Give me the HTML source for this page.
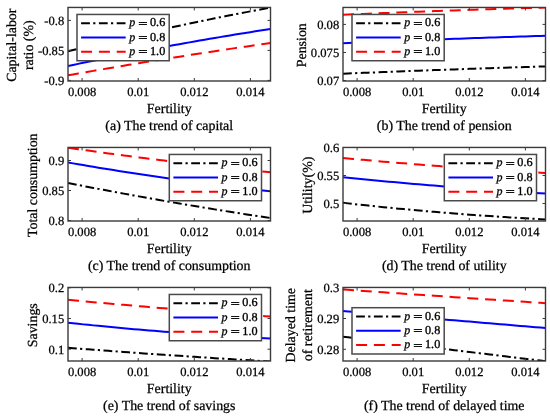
<!DOCTYPE html><html><head><meta charset="utf-8"><style>html,body{margin:0;padding:0;background:#fff;}svg{display:block;}text{font-family:"Liberation Serif",serif;fill:#000;stroke:#000;stroke-width:0.25px;text-rendering:geometricPrecision;}</style></head><body>
<div style="will-change:transform;width:550px;height:419px;filter:blur(0.3px)">
<svg width="550" height="419" viewBox="0 0 550 419">
<rect width="550" height="419" fill="#fff"/>
<clipPath id="cp0"><rect x="68.0" y="7.45" width="202.5" height="73.55"/></clipPath>
<polyline clip-path="url(#cp0)" points="68.00,51.30 73.06,50.05 78.12,48.81 83.19,47.58 88.25,46.35 93.31,45.14 98.38,43.93 103.44,42.73 108.50,41.54 113.56,40.35 118.62,39.17 123.69,38.01 128.75,36.85 133.81,35.69 138.88,34.55 143.94,33.41 149.00,32.28 154.06,31.16 159.12,30.05 164.19,28.95 169.25,27.85 174.31,26.76 179.38,25.68 184.44,24.61 189.50,23.54 194.56,22.49 199.62,21.44 204.69,20.40 209.75,19.37 214.81,18.34 219.88,17.32 224.94,16.32 230.00,15.32 235.06,14.32 240.12,13.34 245.19,12.36 250.25,11.39 255.31,10.43 260.38,9.48 265.44,8.54 270.50,7.60" fill="none" stroke="#000" stroke-width="2" stroke-dasharray="8.8 3.3 2.2 3.5"/>
<polyline clip-path="url(#cp0)" points="68.00,66.00 73.06,64.93 78.12,63.87 83.19,62.81 88.25,61.76 93.31,60.72 98.38,59.69 103.44,58.66 108.50,57.64 113.56,56.63 118.62,55.62 123.69,54.63 128.75,53.64 133.81,52.66 138.88,51.68 143.94,50.72 149.00,49.76 154.06,48.81 159.12,47.86 164.19,46.93 169.25,46.00 174.31,45.08 179.38,44.16 184.44,43.26 189.50,42.36 194.56,41.47 199.62,40.59 204.69,39.71 209.75,38.84 214.81,37.98 219.88,37.12 224.94,36.28 230.00,35.44 235.06,34.61 240.12,33.78 245.19,32.97 250.25,32.16 255.31,31.36 260.38,30.57 265.44,29.78 270.50,29.00" fill="none" stroke="#0000ff" stroke-width="2"/>
<polyline clip-path="url(#cp0)" points="68.00,75.30 73.06,74.40 78.12,73.51 83.19,72.63 88.25,71.75 93.31,70.87 98.38,70.00 103.44,69.13 108.50,68.26 113.56,67.40 118.62,66.55 123.69,65.70 128.75,64.85 133.81,64.01 138.88,63.18 143.94,62.34 149.00,61.52 154.06,60.69 159.12,59.87 164.19,59.06 169.25,58.25 174.31,57.44 179.38,56.64 184.44,55.85 189.50,55.06 194.56,54.27 199.62,53.49 204.69,52.71 209.75,51.93 214.81,51.16 219.88,50.40 224.94,49.64 230.00,48.88 235.06,48.13 240.12,47.39 245.19,46.64 250.25,45.91 255.31,45.17 260.38,44.44 265.44,43.72 270.50,43.00" fill="none" stroke="#ff0000" stroke-width="2" stroke-dasharray="11 6.8"/>
<rect x="68.0" y="7.45" width="202.5" height="73.55" fill="none" stroke="#3a3a3a" stroke-width="1.4"/>
<path d="M82.1 81.0 v-3 M82.1 7.45 v3" stroke="#3a3a3a" stroke-width="1"/>
<text x="82.1" y="96.3" font-size="12.6" text-anchor="middle">0.008</text>
<path d="M138.2 81.0 v-3 M138.2 7.45 v3" stroke="#3a3a3a" stroke-width="1"/>
<text x="138.2" y="96.3" font-size="12.6" text-anchor="middle">0.01</text>
<path d="M194.3 81.0 v-3 M194.3 7.45 v3" stroke="#3a3a3a" stroke-width="1"/>
<text x="194.3" y="96.3" font-size="12.6" text-anchor="middle">0.012</text>
<path d="M250.4 81.0 v-3 M250.4 7.45 v3" stroke="#3a3a3a" stroke-width="1"/>
<text x="250.4" y="96.3" font-size="12.6" text-anchor="middle">0.014</text>
<path d="M68.0 20.4 h3 M270.5 20.4 h-3" stroke="#3a3a3a" stroke-width="1"/>
<text x="64.2" y="24.7" font-size="12.6" text-anchor="end">-0.8</text>
<path d="M68.0 50.4 h3 M270.5 50.4 h-3" stroke="#3a3a3a" stroke-width="1"/>
<text x="64.2" y="54.699999999999996" font-size="12.6" text-anchor="end">-0.85</text>
<path d="M68.0 80.4 h3 M270.5 80.4 h-3" stroke="#3a3a3a" stroke-width="1"/>
<text x="64.2" y="84.7" font-size="12.6" text-anchor="end">-0.9</text>
<text x="169.25" y="113.2" font-size="13.9" text-anchor="middle">Fertility</text>
<text x="169.25" y="130.2" font-size="13.9" text-anchor="middle">(a) The trend of capital</text>
<text transform="translate(15.5,45.225) rotate(-90)" x="0" y="0" font-size="13.9" text-anchor="middle">Capital-labor</text>
<text transform="translate(32.5,45.225) rotate(-90)" x="0" y="0" font-size="13.9" text-anchor="middle">ratio (%)</text>
<rect x="77.0" y="14.45" width="92.2" height="46.3" fill="#fff" stroke="#4a4a4a" stroke-width="1.5"/>
<line x1="81.1" y1="23.15" x2="125.7" y2="23.15" stroke="#000" stroke-width="2" stroke-dasharray="8.8 3.3 2.2 3.5"/>
<text x="129.2" y="26.45" font-size="12" font-style="italic" style="stroke-width:0.3px">p</text>
<path d="M138.8 22.5 h8.2 M138.8 24.5 h8.2" stroke="#111" stroke-width="1.1"/>
<text x="150.0" y="26.45" font-size="12.2" style="stroke-width:0.35px">0.6</text>
<line x1="81.1" y1="37.5" x2="125.7" y2="37.5" stroke="#0000ff" stroke-width="2"/>
<text x="129.2" y="40.55" font-size="12" font-style="italic" style="stroke-width:0.3px">p</text>
<path d="M138.8 36.5 h8.2 M138.8 38.5 h8.2" stroke="#111" stroke-width="1.1"/>
<text x="150.0" y="40.55" font-size="12.2" style="stroke-width:0.35px">0.8</text>
<line x1="81.1" y1="51.849999999999994" x2="125.7" y2="51.849999999999994" stroke="#ff0000" stroke-width="2" stroke-dasharray="11 6.8"/>
<text x="129.2" y="54.65" font-size="12" font-style="italic" style="stroke-width:0.3px">p</text>
<path d="M138.8 50.5 h8.2 M138.8 52.5 h8.2" stroke="#111" stroke-width="1.1"/>
<text x="150.0" y="54.65" font-size="12.2" style="stroke-width:0.35px">1.0</text>
<clipPath id="cp1"><rect x="343.0" y="7.45" width="202.5" height="73.55"/></clipPath>
<polyline clip-path="url(#cp1)" points="343.00,73.70 348.06,73.49 353.12,73.28 358.19,73.07 363.25,72.86 368.31,72.66 373.38,72.45 378.44,72.25 383.50,72.05 388.56,71.85 393.62,71.65 398.69,71.45 403.75,71.26 408.81,71.06 413.88,70.87 418.94,70.68 424.00,70.49 429.06,70.30 434.12,70.12 439.19,69.93 444.25,69.75 449.31,69.57 454.38,69.39 459.44,69.21 464.50,69.03 469.56,68.86 474.62,68.68 479.69,68.51 484.75,68.34 489.81,68.17 494.88,68.00 499.94,67.83 505.00,67.67 510.06,67.50 515.12,67.34 520.19,67.18 525.25,67.02 530.31,66.86 535.38,66.71 540.44,66.55 545.50,66.40" fill="none" stroke="#000" stroke-width="2" stroke-dasharray="8.8 3.3 2.2 3.5"/>
<polyline clip-path="url(#cp1)" points="343.00,43.20 348.06,42.99 353.12,42.77 358.19,42.56 363.25,42.35 368.31,42.14 373.38,41.94 378.44,41.73 383.50,41.53 388.56,41.33 393.62,41.12 398.69,40.93 403.75,40.73 408.81,40.53 413.88,40.34 418.94,40.14 424.00,39.95 429.06,39.76 434.12,39.57 439.19,39.39 444.25,39.20 449.31,39.02 454.38,38.83 459.44,38.65 464.50,38.47 469.56,38.29 474.62,38.12 479.69,37.94 484.75,37.77 489.81,37.60 494.88,37.42 499.94,37.26 505.00,37.09 510.06,36.92 515.12,36.76 520.19,36.59 525.25,36.43 530.31,36.27 535.38,36.11 540.44,35.96 545.50,35.80" fill="none" stroke="#0000ff" stroke-width="2"/>
<polyline clip-path="url(#cp1)" points="343.00,14.80 348.06,14.58 353.12,14.36 358.19,14.14 363.25,13.93 368.31,13.71 373.38,13.50 378.44,13.29 383.50,13.08 388.56,12.88 393.62,12.68 398.69,12.47 403.75,12.27 408.81,12.08 413.88,11.88 418.94,11.69 424.00,11.50 429.06,11.31 434.12,11.12 439.19,10.93 444.25,10.75 449.31,10.57 454.38,10.39 459.44,10.21 464.50,10.04 469.56,9.86 474.62,9.69 479.69,9.52 484.75,9.35 489.81,9.19 494.88,9.02 499.94,8.86 505.00,8.70 510.06,8.55 515.12,8.39 520.19,8.24 525.25,8.09 530.31,7.94 535.38,7.79 540.44,7.64 545.50,7.50" fill="none" stroke="#ff0000" stroke-width="2" stroke-dasharray="11 6.8"/>
<rect x="343.0" y="7.45" width="202.5" height="73.55" fill="none" stroke="#3a3a3a" stroke-width="1.4"/>
<path d="M357.1 81.0 v-3 M357.1 7.45 v3" stroke="#3a3a3a" stroke-width="1"/>
<text x="357.1" y="96.3" font-size="12.6" text-anchor="middle">0.008</text>
<path d="M413.2 81.0 v-3 M413.2 7.45 v3" stroke="#3a3a3a" stroke-width="1"/>
<text x="413.2" y="96.3" font-size="12.6" text-anchor="middle">0.01</text>
<path d="M469.3 81.0 v-3 M469.3 7.45 v3" stroke="#3a3a3a" stroke-width="1"/>
<text x="469.3" y="96.3" font-size="12.6" text-anchor="middle">0.012</text>
<path d="M525.4 81.0 v-3 M525.4 7.45 v3" stroke="#3a3a3a" stroke-width="1"/>
<text x="525.4" y="96.3" font-size="12.6" text-anchor="middle">0.014</text>
<path d="M343.0 24.4 h3 M545.5 24.4 h-3" stroke="#3a3a3a" stroke-width="1"/>
<text x="339.2" y="28.7" font-size="12.6" text-anchor="end">0.08</text>
<path d="M343.0 52.5 h3 M545.5 52.5 h-3" stroke="#3a3a3a" stroke-width="1"/>
<text x="339.2" y="56.8" font-size="12.6" text-anchor="end">0.075</text>
<path d="M343.0 80.6 h3 M545.5 80.6 h-3" stroke="#3a3a3a" stroke-width="1"/>
<text x="339.2" y="84.89999999999999" font-size="12.6" text-anchor="end">0.07</text>
<text x="444.25" y="113.2" font-size="13.9" text-anchor="middle">Fertility</text>
<text x="444.25" y="130.2" font-size="13.9" text-anchor="middle">(b) The trend of pension</text>
<text transform="translate(306,45.225) rotate(-90)" x="0" y="0" font-size="13.9" text-anchor="middle">Pension</text>
<rect x="352.0" y="14.45" width="92.2" height="46.3" fill="#fff" stroke="#4a4a4a" stroke-width="1.5"/>
<line x1="356.1" y1="23.15" x2="400.7" y2="23.15" stroke="#000" stroke-width="2" stroke-dasharray="8.8 3.3 2.2 3.5"/>
<text x="404.2" y="26.45" font-size="12" font-style="italic" style="stroke-width:0.3px">p</text>
<path d="M413.8 22.5 h8.2 M413.8 24.5 h8.2" stroke="#111" stroke-width="1.1"/>
<text x="425.0" y="26.45" font-size="12.2" style="stroke-width:0.35px">0.6</text>
<line x1="356.1" y1="37.5" x2="400.7" y2="37.5" stroke="#0000ff" stroke-width="2"/>
<text x="404.2" y="40.55" font-size="12" font-style="italic" style="stroke-width:0.3px">p</text>
<path d="M413.8 36.5 h8.2 M413.8 38.5 h8.2" stroke="#111" stroke-width="1.1"/>
<text x="425.0" y="40.55" font-size="12.2" style="stroke-width:0.35px">0.8</text>
<line x1="356.1" y1="51.849999999999994" x2="400.7" y2="51.849999999999994" stroke="#ff0000" stroke-width="2" stroke-dasharray="11 6.8"/>
<text x="404.2" y="54.65" font-size="12" font-style="italic" style="stroke-width:0.3px">p</text>
<path d="M413.8 50.5 h8.2 M413.8 52.5 h8.2" stroke="#111" stroke-width="1.1"/>
<text x="425.0" y="54.65" font-size="12.2" style="stroke-width:0.35px">1.0</text>
<clipPath id="cp2"><rect x="68.0" y="147.45" width="202.5" height="73.55"/></clipPath>
<polyline clip-path="url(#cp2)" points="68.00,183.00 73.06,184.00 78.12,184.99 83.19,185.97 88.25,186.95 93.31,187.92 98.38,188.89 103.44,189.85 108.50,190.80 113.56,191.75 118.62,192.69 123.69,193.62 128.75,194.55 133.81,195.47 138.88,196.39 143.94,197.30 149.00,198.20 154.06,199.10 159.12,199.99 164.19,200.87 169.25,201.75 174.31,202.62 179.38,203.49 184.44,204.35 189.50,205.20 194.56,206.05 199.62,206.89 204.69,207.72 209.75,208.55 214.81,209.37 219.88,210.19 224.94,211.00 230.00,211.80 235.06,212.60 240.12,213.39 245.19,214.17 250.25,214.95 255.31,215.72 260.38,216.49 265.44,217.25 270.50,218.00" fill="none" stroke="#000" stroke-width="2" stroke-dasharray="8.8 3.3 2.2 3.5"/>
<polyline clip-path="url(#cp2)" points="68.00,162.50 73.06,163.38 78.12,164.24 83.19,165.10 88.25,165.96 93.31,166.80 98.38,167.64 103.44,168.46 108.50,169.28 113.56,170.10 118.62,170.90 123.69,171.70 128.75,172.48 133.81,173.26 138.88,174.04 143.94,174.80 149.00,175.56 154.06,176.30 159.12,177.04 164.19,177.78 169.25,178.50 174.31,179.22 179.38,179.92 184.44,180.62 189.50,181.32 194.56,182.00 199.62,182.68 204.69,183.34 209.75,184.00 214.81,184.66 219.88,185.30 224.94,185.94 230.00,186.56 235.06,187.18 240.12,187.80 245.19,188.40 250.25,189.00 255.31,189.58 260.38,190.16 265.44,190.74 270.50,191.30" fill="none" stroke="#0000ff" stroke-width="2"/>
<polyline clip-path="url(#cp2)" points="68.00,147.70 73.06,148.43 78.12,149.16 83.19,149.88 88.25,150.59 93.31,151.30 98.38,152.00 103.44,152.70 108.50,153.39 113.56,154.07 118.62,154.75 123.69,155.42 128.75,156.09 133.81,156.75 138.88,157.40 143.94,158.05 149.00,158.69 154.06,159.33 159.12,159.96 164.19,160.58 169.25,161.20 174.31,161.81 179.38,162.42 184.44,163.02 189.50,163.61 194.56,164.20 199.62,164.78 204.69,165.36 209.75,165.93 214.81,166.49 219.88,167.05 224.94,167.60 230.00,168.15 235.06,168.69 240.12,169.22 245.19,169.75 250.25,170.27 255.31,170.79 260.38,171.30 265.44,171.80 270.50,172.30" fill="none" stroke="#ff0000" stroke-width="2" stroke-dasharray="11 6.8"/>
<rect x="68.0" y="147.45" width="202.5" height="73.55" fill="none" stroke="#3a3a3a" stroke-width="1.4"/>
<path d="M82.1 221.0 v-3 M82.1 147.45 v3" stroke="#3a3a3a" stroke-width="1"/>
<text x="82.1" y="236.3" font-size="12.6" text-anchor="middle">0.008</text>
<path d="M138.2 221.0 v-3 M138.2 147.45 v3" stroke="#3a3a3a" stroke-width="1"/>
<text x="138.2" y="236.3" font-size="12.6" text-anchor="middle">0.01</text>
<path d="M194.3 221.0 v-3 M194.3 147.45 v3" stroke="#3a3a3a" stroke-width="1"/>
<text x="194.3" y="236.3" font-size="12.6" text-anchor="middle">0.012</text>
<path d="M250.4 221.0 v-3 M250.4 147.45 v3" stroke="#3a3a3a" stroke-width="1"/>
<text x="250.4" y="236.3" font-size="12.6" text-anchor="middle">0.014</text>
<path d="M68.0 160.5 h3 M270.5 160.5 h-3" stroke="#3a3a3a" stroke-width="1"/>
<text x="64.2" y="164.8" font-size="12.6" text-anchor="end">0.9</text>
<path d="M68.0 190.5 h3 M270.5 190.5 h-3" stroke="#3a3a3a" stroke-width="1"/>
<text x="64.2" y="194.8" font-size="12.6" text-anchor="end">0.85</text>
<path d="M68.0 220.5 h3 M270.5 220.5 h-3" stroke="#3a3a3a" stroke-width="1"/>
<text x="64.2" y="224.8" font-size="12.6" text-anchor="end">0.8</text>
<text x="169.25" y="253.2" font-size="13.9" text-anchor="middle">Fertility</text>
<text x="169.25" y="270.2" font-size="13.9" text-anchor="middle">(c) The trend of consumption</text>
<text transform="translate(37,185.225) rotate(-90)" x="0" y="0" font-size="13.9" text-anchor="middle">Total consumption</text>
<rect x="169.3" y="154.45" width="92.2" height="46.3" fill="#fff" stroke="#4a4a4a" stroke-width="1.5"/>
<line x1="173.4" y1="163.14999999999998" x2="218.0" y2="163.14999999999998" stroke="#000" stroke-width="2" stroke-dasharray="8.8 3.3 2.2 3.5"/>
<text x="221.5" y="166.45" font-size="12" font-style="italic" style="stroke-width:0.3px">p</text>
<path d="M231.10000000000002 162.5 h8.2 M231.10000000000002 164.5 h8.2" stroke="#111" stroke-width="1.1"/>
<text x="242.3" y="166.45" font-size="12.2" style="stroke-width:0.35px">0.6</text>
<line x1="173.4" y1="177.49999999999997" x2="218.0" y2="177.49999999999997" stroke="#0000ff" stroke-width="2"/>
<text x="221.5" y="180.54999999999998" font-size="12" font-style="italic" style="stroke-width:0.3px">p</text>
<path d="M231.10000000000002 176.5 h8.2 M231.10000000000002 178.5 h8.2" stroke="#111" stroke-width="1.1"/>
<text x="242.3" y="180.54999999999998" font-size="12.2" style="stroke-width:0.35px">0.8</text>
<line x1="173.4" y1="191.84999999999997" x2="218.0" y2="191.84999999999997" stroke="#ff0000" stroke-width="2" stroke-dasharray="11 6.8"/>
<text x="221.5" y="194.64999999999998" font-size="12" font-style="italic" style="stroke-width:0.3px">p</text>
<path d="M231.10000000000002 190.5 h8.2 M231.10000000000002 192.5 h8.2" stroke="#111" stroke-width="1.1"/>
<text x="242.3" y="194.64999999999998" font-size="12.2" style="stroke-width:0.35px">1.0</text>
<clipPath id="cp3"><rect x="343.0" y="147.45" width="202.5" height="73.55"/></clipPath>
<polyline clip-path="url(#cp3)" points="343.00,202.80 348.06,203.37 353.12,203.93 358.19,204.49 363.25,205.04 368.31,205.57 373.38,206.11 378.44,206.63 383.50,207.14 388.56,207.65 393.62,208.15 398.69,208.64 403.75,209.12 408.81,209.60 413.88,210.07 418.94,210.53 424.00,210.98 429.06,211.42 434.12,211.85 439.19,212.28 444.25,212.70 449.31,213.11 454.38,213.51 459.44,213.91 464.50,214.30 469.56,214.68 474.62,215.05 479.69,215.41 484.75,215.76 489.81,216.11 494.88,216.45 499.94,216.78 505.00,217.10 510.06,217.42 515.12,217.73 520.19,218.03 525.25,218.32 530.31,218.60 535.38,218.87 540.44,219.14 545.50,219.40" fill="none" stroke="#000" stroke-width="2" stroke-dasharray="8.8 3.3 2.2 3.5"/>
<polyline clip-path="url(#cp3)" points="343.00,177.30 348.06,177.80 353.12,178.30 358.19,178.79 363.25,179.28 368.31,179.76 373.38,180.24 378.44,180.71 383.50,181.18 388.56,181.64 393.62,182.10 398.69,182.55 403.75,183.00 408.81,183.44 413.88,183.88 418.94,184.31 424.00,184.74 429.06,185.16 434.12,185.58 439.19,185.99 444.25,186.40 449.31,186.80 454.38,187.20 459.44,187.59 464.50,187.98 469.56,188.36 474.62,188.74 479.69,189.11 484.75,189.48 489.81,189.84 494.88,190.20 499.94,190.55 505.00,190.90 510.06,191.24 515.12,191.58 520.19,191.91 525.25,192.24 530.31,192.56 535.38,192.88 540.44,193.19 545.50,193.50" fill="none" stroke="#0000ff" stroke-width="2"/>
<polyline clip-path="url(#cp3)" points="343.00,158.00 348.06,158.47 353.12,158.94 358.19,159.40 363.25,159.86 368.31,160.31 373.38,160.76 378.44,161.20 383.50,161.64 388.56,162.07 393.62,162.50 398.69,162.92 403.75,163.34 408.81,163.75 413.88,164.16 418.94,164.56 424.00,164.96 429.06,165.35 434.12,165.74 439.19,166.12 444.25,166.50 449.31,166.87 454.38,167.24 459.44,167.60 464.50,167.96 469.56,168.31 474.62,168.66 479.69,169.00 484.75,169.34 489.81,169.67 494.88,170.00 499.94,170.32 505.00,170.64 510.06,170.95 515.12,171.26 520.19,171.56 525.25,171.86 530.31,172.15 535.38,172.44 540.44,172.72 545.50,173.00" fill="none" stroke="#ff0000" stroke-width="2" stroke-dasharray="11 6.8"/>
<rect x="343.0" y="147.45" width="202.5" height="73.55" fill="none" stroke="#3a3a3a" stroke-width="1.4"/>
<path d="M357.1 221.0 v-3 M357.1 147.45 v3" stroke="#3a3a3a" stroke-width="1"/>
<text x="357.1" y="236.3" font-size="12.6" text-anchor="middle">0.008</text>
<path d="M413.2 221.0 v-3 M413.2 147.45 v3" stroke="#3a3a3a" stroke-width="1"/>
<text x="413.2" y="236.3" font-size="12.6" text-anchor="middle">0.01</text>
<path d="M469.3 221.0 v-3 M469.3 147.45 v3" stroke="#3a3a3a" stroke-width="1"/>
<text x="469.3" y="236.3" font-size="12.6" text-anchor="middle">0.012</text>
<path d="M525.4 221.0 v-3 M525.4 147.45 v3" stroke="#3a3a3a" stroke-width="1"/>
<text x="525.4" y="236.3" font-size="12.6" text-anchor="middle">0.014</text>
<path d="M343.0 147.5 h3 M545.5 147.5 h-3" stroke="#3a3a3a" stroke-width="1"/>
<text x="339.2" y="151.8" font-size="12.6" text-anchor="end">0.6</text>
<path d="M343.0 175.5 h3 M545.5 175.5 h-3" stroke="#3a3a3a" stroke-width="1"/>
<text x="339.2" y="179.8" font-size="12.6" text-anchor="end">0.55</text>
<path d="M343.0 203.5 h3 M545.5 203.5 h-3" stroke="#3a3a3a" stroke-width="1"/>
<text x="339.2" y="207.8" font-size="12.6" text-anchor="end">0.5</text>
<text x="444.25" y="253.2" font-size="13.9" text-anchor="middle">Fertility</text>
<text x="444.25" y="270.2" font-size="13.9" text-anchor="middle">(d) The trend of utility</text>
<text transform="translate(311.5,185.225) rotate(-90)" x="0" y="0" font-size="13.9" text-anchor="middle">Utility(%)</text>
<rect x="444.3" y="154.45" width="92.2" height="46.3" fill="#fff" stroke="#4a4a4a" stroke-width="1.5"/>
<line x1="448.40000000000003" y1="163.14999999999998" x2="493.0" y2="163.14999999999998" stroke="#000" stroke-width="2" stroke-dasharray="8.8 3.3 2.2 3.5"/>
<text x="496.5" y="166.45" font-size="12" font-style="italic" style="stroke-width:0.3px">p</text>
<path d="M506.1 162.5 h8.2 M506.1 164.5 h8.2" stroke="#111" stroke-width="1.1"/>
<text x="517.3" y="166.45" font-size="12.2" style="stroke-width:0.35px">0.6</text>
<line x1="448.40000000000003" y1="177.49999999999997" x2="493.0" y2="177.49999999999997" stroke="#0000ff" stroke-width="2"/>
<text x="496.5" y="180.54999999999998" font-size="12" font-style="italic" style="stroke-width:0.3px">p</text>
<path d="M506.1 176.5 h8.2 M506.1 178.5 h8.2" stroke="#111" stroke-width="1.1"/>
<text x="517.3" y="180.54999999999998" font-size="12.2" style="stroke-width:0.35px">0.8</text>
<line x1="448.40000000000003" y1="191.84999999999997" x2="493.0" y2="191.84999999999997" stroke="#ff0000" stroke-width="2" stroke-dasharray="11 6.8"/>
<text x="496.5" y="194.64999999999998" font-size="12" font-style="italic" style="stroke-width:0.3px">p</text>
<path d="M506.1 190.5 h8.2 M506.1 192.5 h8.2" stroke="#111" stroke-width="1.1"/>
<text x="517.3" y="194.64999999999998" font-size="12.2" style="stroke-width:0.35px">1.0</text>
<clipPath id="cp4"><rect x="68.0" y="287.45" width="202.5" height="73.55"/></clipPath>
<polyline clip-path="url(#cp4)" points="68.00,347.80 73.06,348.19 78.12,348.58 83.19,348.97 88.25,349.35 93.31,349.73 98.38,350.11 103.44,350.49 108.50,350.86 113.56,351.23 118.62,351.60 123.69,351.97 128.75,352.33 133.81,352.69 138.88,353.05 143.94,353.41 149.00,353.76 154.06,354.11 159.12,354.46 164.19,354.81 169.25,355.15 174.31,355.49 179.38,355.83 184.44,356.17 189.50,356.50 194.56,356.83 199.62,357.16 204.69,357.49 209.75,357.81 214.81,358.13 219.88,358.45 224.94,358.77 230.00,359.08 235.06,359.39 240.12,359.70 245.19,360.01 250.25,360.31 255.31,360.61 260.38,360.91 265.44,361.21 270.50,361.50" fill="none" stroke="#000" stroke-width="2" stroke-dasharray="8.8 3.3 2.2 3.5"/>
<polyline clip-path="url(#cp4)" points="68.00,322.80 73.06,323.33 78.12,323.85 83.19,324.37 88.25,324.87 93.31,325.38 98.38,325.87 103.44,326.36 108.50,326.84 113.56,327.31 118.62,327.78 123.69,328.23 128.75,328.69 133.81,329.13 138.88,329.57 143.94,330.00 149.00,330.42 154.06,330.84 159.12,331.25 164.19,331.65 169.25,332.05 174.31,332.44 179.38,332.82 184.44,333.20 189.50,333.56 194.56,333.93 199.62,334.28 204.69,334.63 209.75,334.97 214.81,335.30 219.88,335.62 224.94,335.94 230.00,336.26 235.06,336.56 240.12,336.86 245.19,337.15 250.25,337.43 255.31,337.71 260.38,337.98 265.44,338.24 270.50,338.50" fill="none" stroke="#0000ff" stroke-width="2"/>
<polyline clip-path="url(#cp4)" points="68.00,299.80 73.06,300.28 78.12,300.75 83.19,301.22 88.25,301.69 93.31,302.15 98.38,302.61 103.44,303.07 108.50,303.52 113.56,303.98 118.62,304.43 123.69,304.87 128.75,305.31 133.81,305.75 138.88,306.19 143.94,306.62 149.00,307.06 154.06,307.48 159.12,307.91 164.19,308.33 169.25,308.75 174.31,309.17 179.38,309.58 184.44,309.99 189.50,310.40 194.56,310.80 199.62,311.20 204.69,311.60 209.75,311.99 214.81,312.39 219.88,312.77 224.94,313.16 230.00,313.54 235.06,313.92 240.12,314.30 245.19,314.68 250.25,315.05 255.31,315.41 260.38,315.78 265.44,316.14 270.50,316.50" fill="none" stroke="#ff0000" stroke-width="2" stroke-dasharray="11 6.8"/>
<rect x="68.0" y="287.45" width="202.5" height="73.55" fill="none" stroke="#3a3a3a" stroke-width="1.4"/>
<path d="M82.1 361.0 v-3 M82.1 287.45 v3" stroke="#3a3a3a" stroke-width="1"/>
<text x="82.1" y="376.3" font-size="12.6" text-anchor="middle">0.008</text>
<path d="M138.2 361.0 v-3 M138.2 287.45 v3" stroke="#3a3a3a" stroke-width="1"/>
<text x="138.2" y="376.3" font-size="12.6" text-anchor="middle">0.01</text>
<path d="M194.3 361.0 v-3 M194.3 287.45 v3" stroke="#3a3a3a" stroke-width="1"/>
<text x="194.3" y="376.3" font-size="12.6" text-anchor="middle">0.012</text>
<path d="M250.4 361.0 v-3 M250.4 287.45 v3" stroke="#3a3a3a" stroke-width="1"/>
<text x="250.4" y="376.3" font-size="12.6" text-anchor="middle">0.014</text>
<path d="M68.0 287.8 h3 M270.5 287.8 h-3" stroke="#3a3a3a" stroke-width="1"/>
<text x="64.2" y="292.1" font-size="12.6" text-anchor="end">0.2</text>
<path d="M68.0 318.5 h3 M270.5 318.5 h-3" stroke="#3a3a3a" stroke-width="1"/>
<text x="64.2" y="322.8" font-size="12.6" text-anchor="end">0.15</text>
<path d="M68.0 349.2 h3 M270.5 349.2 h-3" stroke="#3a3a3a" stroke-width="1"/>
<text x="64.2" y="353.5" font-size="12.6" text-anchor="end">0.1</text>
<text x="169.25" y="393.2" font-size="13.9" text-anchor="middle">Fertility</text>
<text x="169.25" y="410.2" font-size="13.9" text-anchor="middle">(e) The trend of savings</text>
<text transform="translate(37,325.225) rotate(-90)" x="0" y="0" font-size="13.9" text-anchor="middle">Savings</text>
<rect x="169.3" y="294.45" width="92.2" height="46.3" fill="#fff" stroke="#4a4a4a" stroke-width="1.5"/>
<line x1="173.4" y1="303.15" x2="218.0" y2="303.15" stroke="#000" stroke-width="2" stroke-dasharray="8.8 3.3 2.2 3.5"/>
<text x="221.5" y="306.45" font-size="12" font-style="italic" style="stroke-width:0.3px">p</text>
<path d="M231.10000000000002 302.5 h8.2 M231.10000000000002 304.5 h8.2" stroke="#111" stroke-width="1.1"/>
<text x="242.3" y="306.45" font-size="12.2" style="stroke-width:0.35px">0.6</text>
<line x1="173.4" y1="317.5" x2="218.0" y2="317.5" stroke="#0000ff" stroke-width="2"/>
<text x="221.5" y="320.55" font-size="12" font-style="italic" style="stroke-width:0.3px">p</text>
<path d="M231.10000000000002 316.5 h8.2 M231.10000000000002 318.5 h8.2" stroke="#111" stroke-width="1.1"/>
<text x="242.3" y="320.55" font-size="12.2" style="stroke-width:0.35px">0.8</text>
<line x1="173.4" y1="331.84999999999997" x2="218.0" y2="331.84999999999997" stroke="#ff0000" stroke-width="2" stroke-dasharray="11 6.8"/>
<text x="221.5" y="334.65" font-size="12" font-style="italic" style="stroke-width:0.3px">p</text>
<path d="M231.10000000000002 330.5 h8.2 M231.10000000000002 332.5 h8.2" stroke="#111" stroke-width="1.1"/>
<text x="242.3" y="334.65" font-size="12.2" style="stroke-width:0.35px">1.0</text>
<clipPath id="cp5"><rect x="343.0" y="287.45" width="202.5" height="73.55"/></clipPath>
<polyline clip-path="url(#cp5)" points="343.00,336.70 348.06,337.31 353.12,337.93 358.19,338.54 363.25,339.15 368.31,339.76 373.38,340.38 378.44,340.99 383.50,341.60 388.56,342.21 393.62,342.82 398.69,343.44 403.75,344.05 408.81,344.66 413.88,345.27 418.94,345.89 424.00,346.50 429.06,347.11 434.12,347.72 439.19,348.34 444.25,348.95 449.31,349.56 454.38,350.18 459.44,350.79 464.50,351.40 469.56,352.01 474.62,352.62 479.69,353.24 484.75,353.85 489.81,354.46 494.88,355.07 499.94,355.69 505.00,356.30 510.06,356.91 515.12,357.52 520.19,358.14 525.25,358.75 530.31,359.36 535.38,359.97 540.44,360.59 545.50,361.20" fill="none" stroke="#000" stroke-width="2" stroke-dasharray="8.8 3.3 2.2 3.5"/>
<polyline clip-path="url(#cp5)" points="343.00,311.00 348.06,311.43 353.12,311.85 358.19,312.27 363.25,312.70 368.31,313.12 373.38,313.55 378.44,313.98 383.50,314.40 388.56,314.82 393.62,315.25 398.69,315.68 403.75,316.10 408.81,316.52 413.88,316.95 418.94,317.38 424.00,317.80 429.06,318.23 434.12,318.65 439.19,319.07 444.25,319.50 449.31,319.93 454.38,320.35 459.44,320.77 464.50,321.20 469.56,321.62 474.62,322.05 479.69,322.48 484.75,322.90 489.81,323.32 494.88,323.75 499.94,324.18 505.00,324.60 510.06,325.02 515.12,325.45 520.19,325.88 525.25,326.30 530.31,326.73 535.38,327.15 540.44,327.57 545.50,328.00" fill="none" stroke="#0000ff" stroke-width="2"/>
<polyline clip-path="url(#cp5)" points="343.00,289.50 348.06,289.85 353.12,290.20 358.19,290.56 363.25,290.91 368.31,291.26 373.38,291.61 378.44,291.96 383.50,292.30 388.56,292.65 393.62,293.00 398.69,293.35 403.75,293.69 408.81,294.04 413.88,294.39 418.94,294.73 424.00,295.08 429.06,295.42 434.12,295.76 439.19,296.11 444.25,296.45 449.31,296.79 454.38,297.13 459.44,297.48 464.50,297.82 469.56,298.16 474.62,298.50 479.69,298.84 484.75,299.17 489.81,299.51 494.88,299.85 499.94,300.19 505.00,300.52 510.06,300.86 515.12,301.20 520.19,301.53 525.25,301.87 530.31,302.20 535.38,302.53 540.44,302.87 545.50,303.20" fill="none" stroke="#ff0000" stroke-width="2" stroke-dasharray="11 6.8"/>
<rect x="343.0" y="287.45" width="202.5" height="73.55" fill="none" stroke="#3a3a3a" stroke-width="1.4"/>
<path d="M357.1 361.0 v-3 M357.1 287.45 v3" stroke="#3a3a3a" stroke-width="1"/>
<text x="357.1" y="376.3" font-size="12.6" text-anchor="middle">0.008</text>
<path d="M413.2 361.0 v-3 M413.2 287.45 v3" stroke="#3a3a3a" stroke-width="1"/>
<text x="413.2" y="376.3" font-size="12.6" text-anchor="middle">0.01</text>
<path d="M469.3 361.0 v-3 M469.3 287.45 v3" stroke="#3a3a3a" stroke-width="1"/>
<text x="469.3" y="376.3" font-size="12.6" text-anchor="middle">0.012</text>
<path d="M525.4 361.0 v-3 M525.4 287.45 v3" stroke="#3a3a3a" stroke-width="1"/>
<text x="525.4" y="376.3" font-size="12.6" text-anchor="middle">0.014</text>
<path d="M343.0 287.8 h3 M545.5 287.8 h-3" stroke="#3a3a3a" stroke-width="1"/>
<text x="339.2" y="292.1" font-size="12.6" text-anchor="end">0.3</text>
<path d="M343.0 318.5 h3 M545.5 318.5 h-3" stroke="#3a3a3a" stroke-width="1"/>
<text x="339.2" y="322.8" font-size="12.6" text-anchor="end">0.29</text>
<path d="M343.0 349.3 h3 M545.5 349.3 h-3" stroke="#3a3a3a" stroke-width="1"/>
<text x="339.2" y="353.6" font-size="12.6" text-anchor="end">0.28</text>
<text x="444.25" y="393.2" font-size="13.9" text-anchor="middle">Fertility</text>
<text x="444.25" y="410.2" font-size="13.9" text-anchor="middle">(f) The trend of delayed time</text>
<text transform="translate(295.3,325.225) rotate(-90)" x="0" y="0" font-size="13.9" text-anchor="middle">Delayed time</text>
<text transform="translate(311.5,325.225) rotate(-90)" x="0" y="0" font-size="13.9" text-anchor="middle">of retirement</text>
<rect x="352.0" y="307.7" width="92.2" height="46.3" fill="#fff" stroke="#4a4a4a" stroke-width="1.5"/>
<line x1="356.1" y1="316.4" x2="400.7" y2="316.4" stroke="#000" stroke-width="2" stroke-dasharray="8.8 3.3 2.2 3.5"/>
<text x="404.2" y="319.7" font-size="12" font-style="italic" style="stroke-width:0.3px">p</text>
<path d="M413.8 315.5 h8.2 M413.8 317.5 h8.2" stroke="#111" stroke-width="1.1"/>
<text x="425.0" y="319.7" font-size="12.2" style="stroke-width:0.35px">0.6</text>
<line x1="356.1" y1="330.75" x2="400.7" y2="330.75" stroke="#0000ff" stroke-width="2"/>
<text x="404.2" y="333.8" font-size="12" font-style="italic" style="stroke-width:0.3px">p</text>
<path d="M413.8 329.5 h8.2 M413.8 331.5 h8.2" stroke="#111" stroke-width="1.1"/>
<text x="425.0" y="333.8" font-size="12.2" style="stroke-width:0.35px">0.8</text>
<line x1="356.1" y1="345.09999999999997" x2="400.7" y2="345.09999999999997" stroke="#ff0000" stroke-width="2" stroke-dasharray="11 6.8"/>
<text x="404.2" y="347.9" font-size="12" font-style="italic" style="stroke-width:0.3px">p</text>
<path d="M413.8 344.5 h8.2 M413.8 346.5 h8.2" stroke="#111" stroke-width="1.1"/>
<text x="425.0" y="347.9" font-size="12.2" style="stroke-width:0.35px">1.0</text>
</svg></div></body></html>
